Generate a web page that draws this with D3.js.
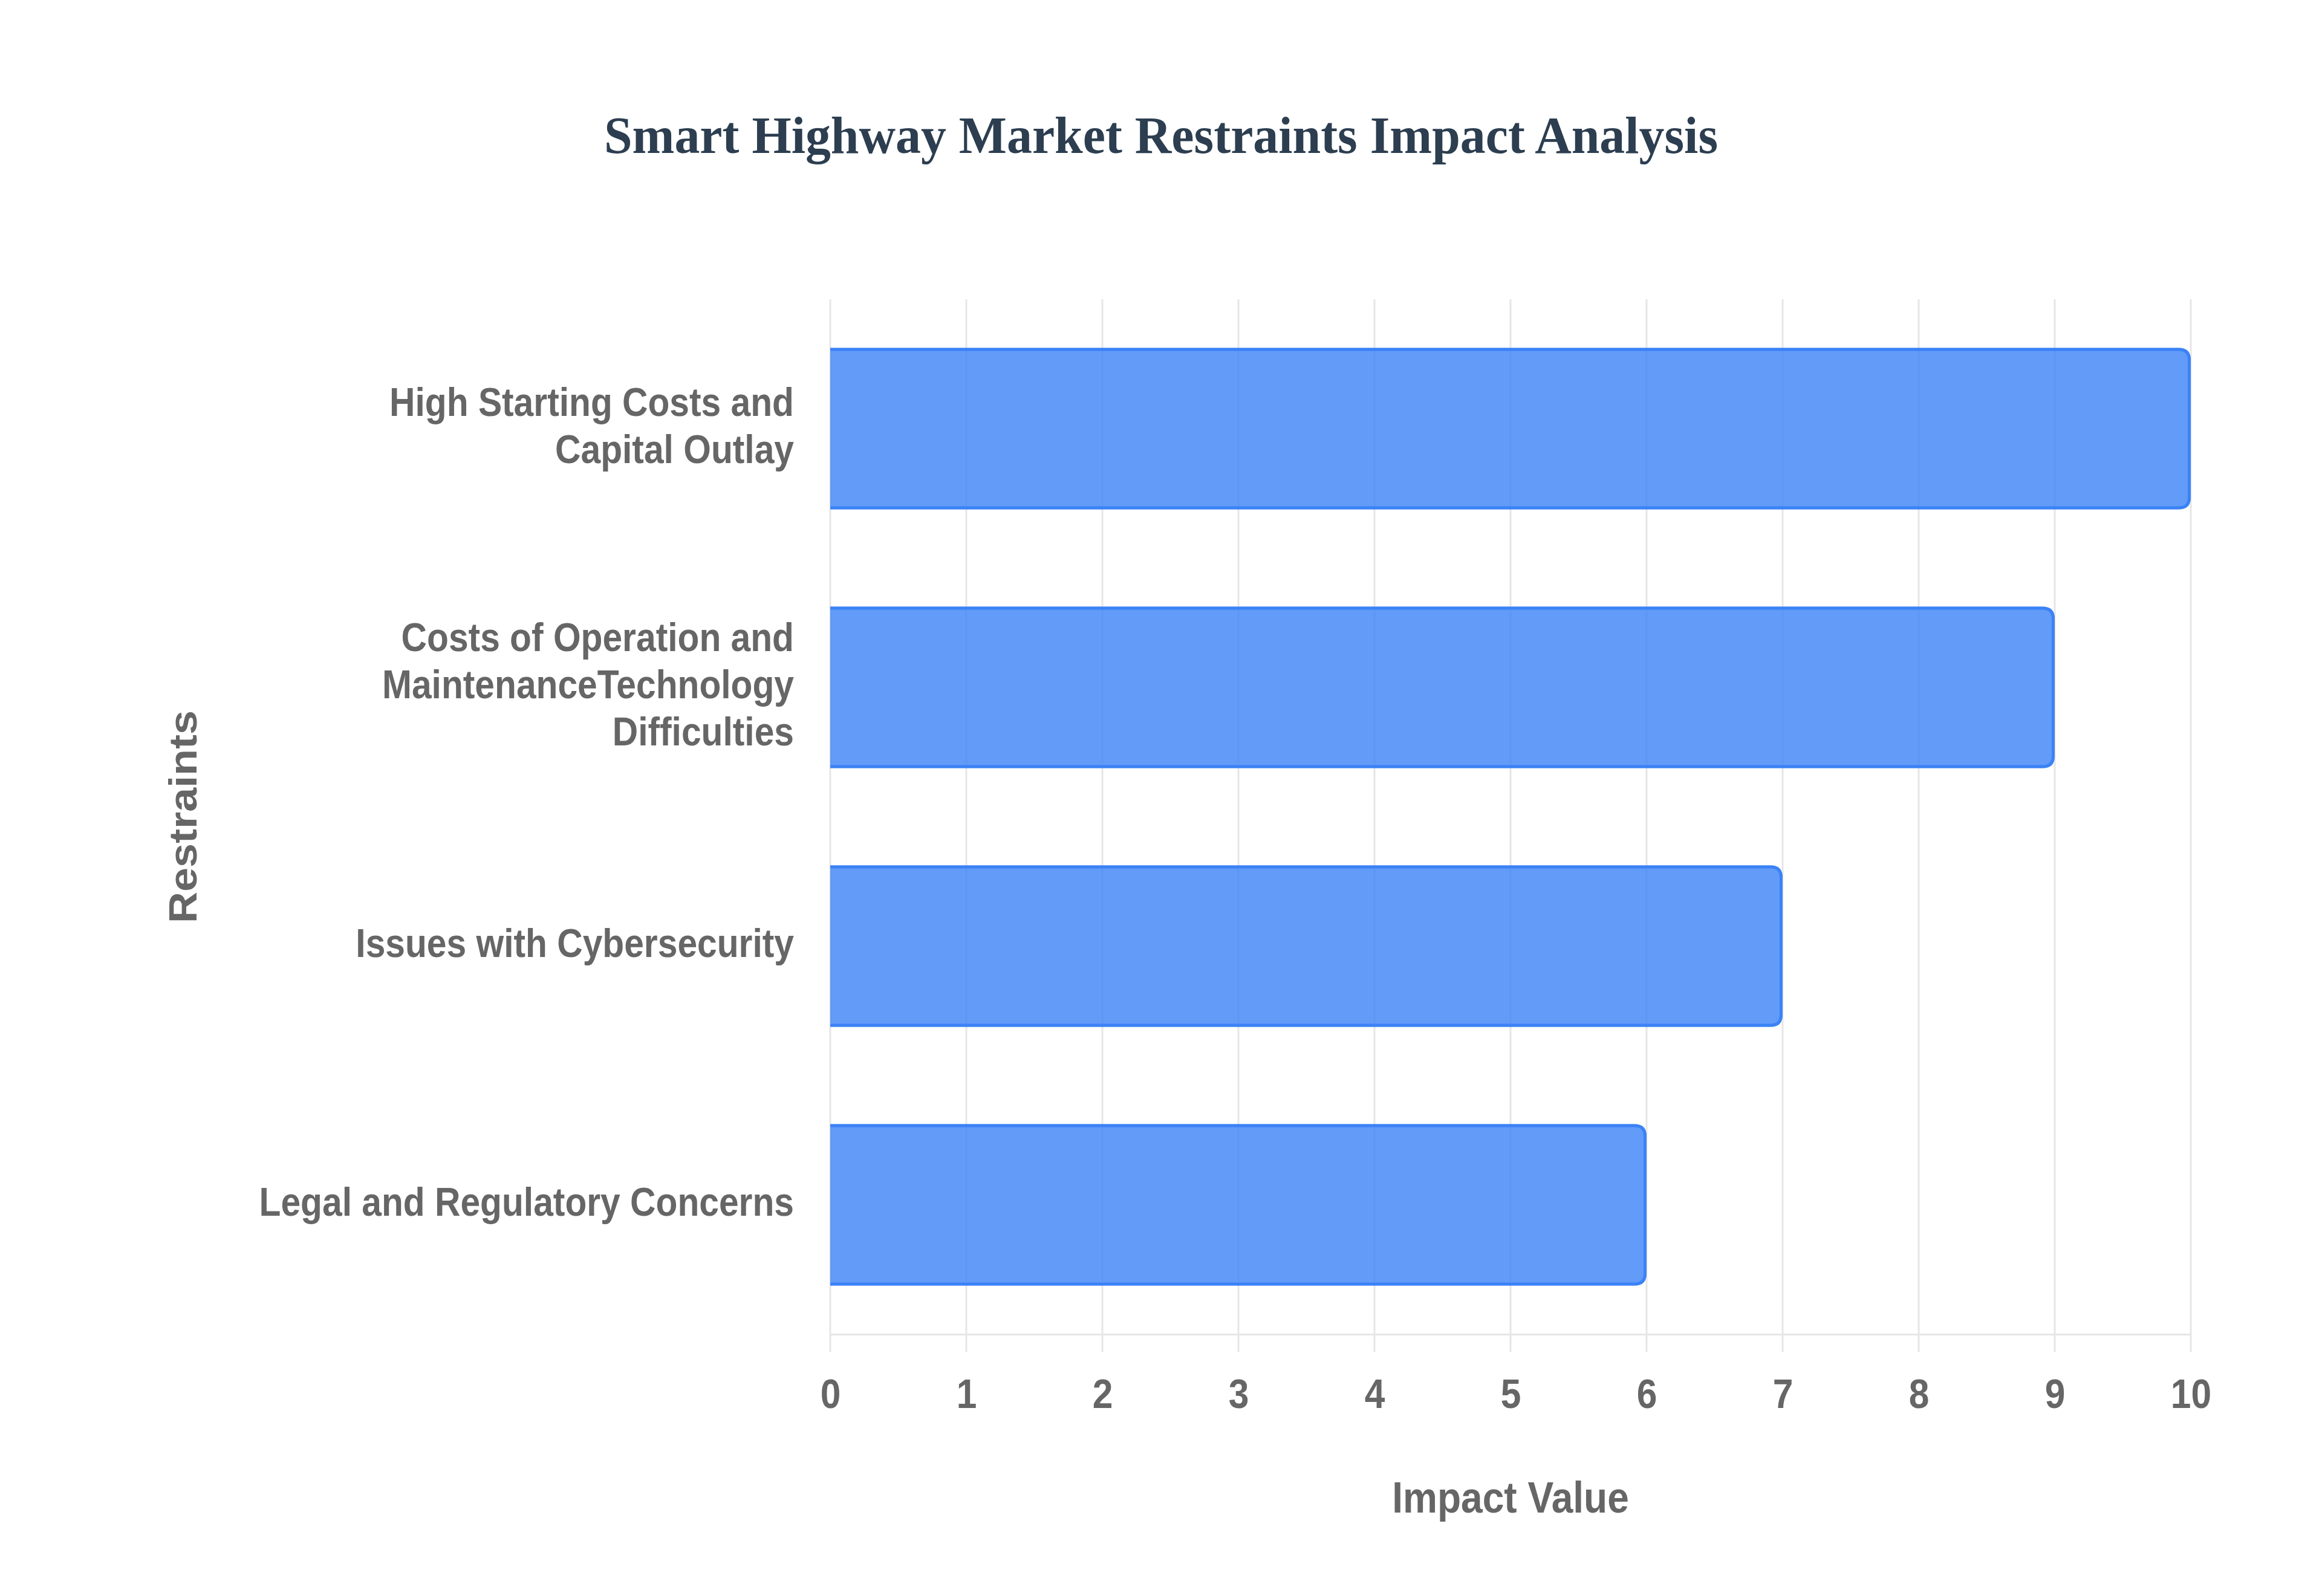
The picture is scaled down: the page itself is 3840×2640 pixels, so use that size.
<!DOCTYPE html>
<html>
<head>
<meta charset="utf-8">
<script src="https://cdn.jsdelivr.net/npm/d3@7"></script>
<style>
  html, body { margin: 0; padding: 0; background: #ffffff; }
  svg { display: block; }
</style>
</head>
<body>
<div id="chart"></div>
<script>
// Restraints (top to bottom) and their impact values
const categories = [
  'High Starting Costs and Capital Outlay',
  'Costs of Operation and MaintenanceTechnology Difficulties',
  'Issues with Cybersecurity',
  'Legal and Regulatory Concerns'
];
const labelLines = [
  ['High Starting Costs and', 'Capital Outlay'],
  ['Costs of Operation and', 'MaintenanceTechnology', 'Difficulties'],
  ['Issues with Cybersecurity'],
  ['Legal and Regulatory Concerns']
];
const impactValues = [10, 9, 7, 6];
const xTicks = [0, 1, 2, 3, 4, 5, 6, 7, 8, 9, 10];

const width = 3840;
const height = 2640;
const margin = { top: 495, right: 217, bottom: 433, left: 1373 };
const innerW = width - margin.left - margin.right;
const innerH = height - margin.top - margin.bottom;

// the reference text is a little narrower than the fonts, squeeze it sideways
const squeeze = 0.89;
const sansFont = '"Liberation Sans", Arial, Helvetica, sans-serif';
const textGrey = '#666666';
const gridColor = '#e6e6e6';

const svg = d3.select('#chart')
  .append('svg')
  .attr('width', width)
  .attr('height', height);

svg.append('rect').attr('width', width).attr('height', height).attr('fill', '#ffffff');

const g = svg.append('g')
  .attr('transform', `translate(${margin.left},${margin.top})`);

const x = d3.scaleLinear().domain([0, 10]).range([0, innerW]);
const y = d3.scaleBand().domain(categories).range([0, innerH])
  .paddingInner(0.376).paddingOuter(0.188);

// Vertical grid lines (run a little past the axis like tick marks)
g.selectAll('.grid')
  .data(xTicks)
  .enter()
  .append('line')
  .attr('x1', d => x(d)).attr('x2', d => x(d))
  .attr('y1', 0).attr('y2', innerH + 29)
  .attr('stroke', gridColor)
  .attr('stroke-width', 3);

// Bars: rounded right end, no border on the left edge
const sw = 5;
const r = 20;
const barFill = (x0, x1, y0, y1) =>
  `M${x0},${y0}H${x1 - r}Q${x1},${y0} ${x1},${y0 + r}V${y1 - r}Q${x1},${y1} ${x1 - r},${y1}H${x0}Z`;
const barEdge = (x0, x1, y0, y1) => {
  const h = sw / 2;
  const ri = r - h;
  return `M${x0},${y0 + h}H${x1 - h - ri}Q${x1 - h},${y0 + h} ${x1 - h},${y0 + h + ri}` +
    `V${y1 - h - ri}Q${x1 - h},${y1 - h} ${x1 - h - ri},${y1 - h}H${x0}`;
};

const bars = g.selectAll('.bar')
  .data(impactValues)
  .enter()
  .append('g');

bars.append('path')
  .attr('d', (d, i) => barFill(x(0), x(d), y(categories[i]), y(categories[i]) + y.bandwidth()))
  .attr('fill', 'rgba(59, 130, 246, 0.8)');

bars.append('path')
  .attr('d', (d, i) => barEdge(x(0), x(d), y(categories[i]), y(categories[i]) + y.bandwidth()))
  .attr('fill', 'none')
  .attr('stroke', '#3b82f6')
  .attr('stroke-width', sw);

// X axis
const xAxis = g.append('g')
  .attr('transform', `translate(0,${innerH})`)
  .call(d3.axisBottom(x).tickValues(xTicks).tickSize(0).tickFormat(d3.format('d')));
xAxis.select('.domain').attr('stroke', gridColor).attr('stroke-width', 3);
xAxis.selectAll('text')
  .attr('y', 122)
  .attr('dy', null)
  .attr('transform', `scale(${squeeze},1)`)
  .attr('fill', textGrey)
  .attr('font-size', '68px')
  .attr('font-weight', 'bold')
  .attr('font-family', sansFont);

// Y axis labels, wrapped on several lines
const lineH = 78;
const yAxis = g.append('g')
  .call(d3.axisLeft(y).tickSize(0).tickFormat(''));
yAxis.select('.domain').remove();
yAxis.selectAll('.tick text').remove();
yAxis.selectAll('.tick')
  .append('text')
  .attr('transform', `translate(-60,0) scale(${squeeze},1)`)
  .attr('text-anchor', 'end')
  .attr('fill', textGrey)
  .attr('font-size', '66px')
  .attr('font-weight', 'bold')
  .attr('font-family', sansFont)
  .each(function(d, i) {
    const lines = labelLines[i];
    const first = 18 - (lines.length - 1) * lineH / 2;
    d3.select(this).selectAll('tspan')
      .data(lines)
      .enter()
      .append('tspan')
      .attr('x', 0)
      .attr('y', (l, k) => first + k * lineH)
      .text(l => l);
  });

// Title
svg.append('text')
  .attr('transform', `translate(${width / 2},253) scale(0.975,1)`)
  .attr('text-anchor', 'middle')
  .attr('fill', '#2c3e50')
  .attr('font-size', '86px')
  .attr('font-weight', 'bold')
  .attr('font-family', '"Liberation Serif", "Times New Roman", Times, serif')
  .text('Smart Highway Market Restraints Impact Analysis');

// X-axis title
svg.append('text')
  .attr('transform', `translate(${margin.left + innerW / 2},2502) scale(${squeeze},1)`)
  .attr('text-anchor', 'middle')
  .attr('fill', textGrey)
  .attr('font-size', '72px')
  .attr('font-weight', 'bold')
  .attr('font-family', sansFont)
  .text('Impact Value');

// Y-axis title
svg.append('text')
  .attr('transform', `translate(325,${margin.top + innerH / 2}) scale(${squeeze},1) rotate(-90)`)
  .attr('text-anchor', 'middle')
  .attr('fill', textGrey)
  .attr('font-size', '72px')
  .attr('font-weight', 'bold')
  .attr('font-family', sansFont)
  .text('Restraints');
</script>
</body>
</html>
